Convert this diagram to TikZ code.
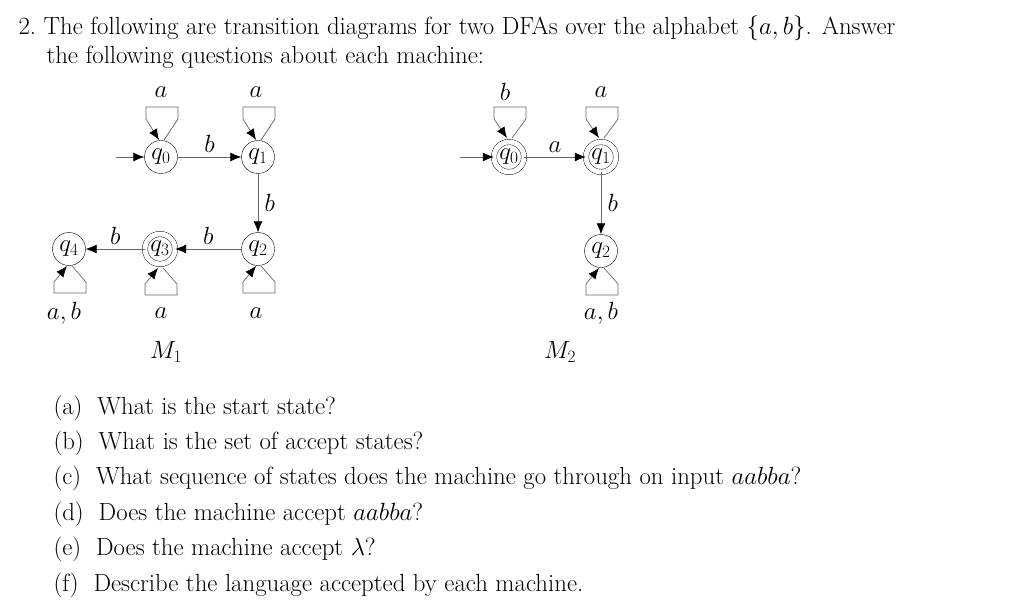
\documentclass[tikz,border=0pt]{standalone}
\usetikzlibrary{calc,arrows.meta}
\begin{document}
\begin{tikzpicture}[x=1pt,y=-1pt,font=\fontsize{24.8}{28}\selectfont,
  st/.style={circle,draw,minimum size=33pt,inner sep=0pt},
  acc/.style={circle,draw,double,double distance=5pt,minimum size=30pt,inner sep=0pt},
  tr/.style={draw=black!60,line width=0.7pt,-{Latex[length=11pt,width=9pt,black]}},
  ln/.style={draw=black!60,line width=0.7pt}]
\useasboundingbox (0,0) rectangle (1024,609);
\node[anchor=base west] (l1) at (15,35) {2.\ The following are transition diagrams for two DFAs over the alphabet $\{a,b\}$. Answer};
\node[anchor=base west] (l2) at (43,64) {the following questions about each machine:};
% M1
\node[st] (a0) at (161,157) {$q_0$};
\node[st] (a1) at (258,157) {$q_1$};
\node[st] (a2) at (258,249) {$q_2$};
\node[acc] (a3) at (160,249) {$q_3$};
\node[st] (a4) at (69,249) {$q_4$};
\coordinate (s1) at (116,157);
\draw[tr] (s1) -- (a0);
\draw[tr] (a0) -- node[above=1pt]{$b$} (a1);
\draw[tr] (a1) -- node[right=3pt]{$b$} (a2);
\draw[tr] (a2) -- node[above=1pt]{$b$} (a3);
\draw[tr] (a3) -- node[above=1pt]{$b$} (a4);
\foreach \n in {a0,a1}{
  \draw[ln] ($(\n)+(3,-17)$) -- ($(\n)+(17,-38)$) -- ($(\n)+(17,-50)$) -- ($(\n)+(-15,-50)$) -- ($(\n)+(-15,-38)$);
  \draw[tr] ($(\n)+(-15,-38)$) -- ($(\n)+(-2,-17)$);
}
\foreach \n/\r in {a2/17,a3/19,a4/17}{
  \draw[ln] ($(\n)+(3,\r)$) -- ($(\n)+(17,\r+16)$) -- ($(\n)+(17,\r+27)$) -- ($(\n)+(-15,\r+27)$) -- ($(\n)+(-15,\r+16)$);
  \draw[tr] ($(\n)+(-15,\r+16)$) -- ($(\n)+(-2,\r)$);
}
\node (la0) at (161,92) {$a$};
\node (la1) at (256,92) {$a$};
\node (la2) at (256,313) {$a$};
\node (la3) at (161,313) {$a$};
\node (la4) at (64,313) {$a,b$};
\node (M1) at (166,352) {$M_1$};
% M2
\node[acc] (b0) at (509,157) {$q_0$};
\node[acc] (b1) at (601,157) {$q_1$};
\node[st] (b2) at (601,251) {$q_2$};
\coordinate (s2) at (460,157);
\draw[tr] (s2) -- (b0);
\draw[tr] (b0) -- node[above=1pt]{$a$} (b1);
\draw[tr] (b1) -- node[right=3pt]{$b$} (b2);
\foreach \n in {b0,b1}{
  \draw[ln] ($(\n)+(3,-19)$) -- ($(\n)+(17,-38)$) -- ($(\n)+(17,-50)$) -- ($(\n)+(-15,-50)$) -- ($(\n)+(-15,-38)$);
  \draw[tr] ($(\n)+(-15,-38)$) -- ($(\n)+(-2,-19)$);
}
\draw[ln] ($(b2)+(3,17)$) -- ($(b2)+(17,33)$) -- ($(b2)+(17,44)$) -- ($(b2)+(-15,44)$) -- ($(b2)+(-15,33)$);
\draw[tr] ($(b2)+(-15,33)$) -- ($(b2)+(-2,17)$);
\node (lb0) at (505,92) {$b$};
\node (lb1) at (601,92) {$a$};
\node (lb2) at (601,313) {$a,b$};
\node (M2) at (560,352) {$M_2$};
% questions
\foreach \y/\t [count=\i] in {414/{(a)\ \ What is the start state?},
  449/{(b)\ \ What is the set of accept states?},
  484/{(c)\ \ What sequence of states does the machine go through on input $aabba$?},
  520/{(d)\ \ Does the machine accept $aabba$?},
  555/{(e)\ \ Does the machine accept $\lambda$?},
  591/{(f)\ \ Describe the language accepted by each machine.}}
  \node[anchor=base west] (q\i) at (50,\y) {\t};
\end{tikzpicture}
\end{document}
